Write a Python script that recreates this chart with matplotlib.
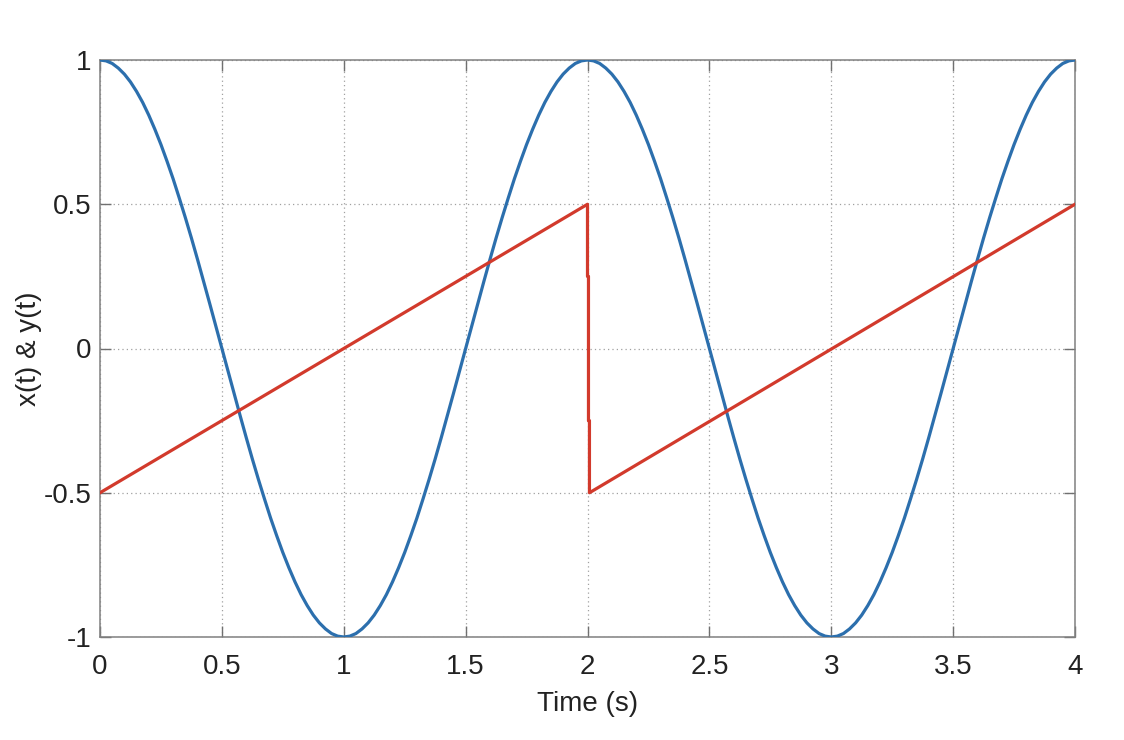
import matplotlib
matplotlib.use("Agg")
import matplotlib.pyplot as plt

# values
t_cos = [i * 0.025 for i in range(161)]
x_vals = [
    1.000, 0.997, 0.988, 0.972, 0.951, 0.924, 0.891, 0.853, 0.809, 0.760,
    0.707, 0.649, 0.588, 0.522, 0.454, 0.383, 0.309, 0.233, 0.156, 0.078,
    0.000, -0.078, -0.156, -0.233, -0.309, -0.383, -0.454, -0.522, -0.588, -0.649,
    -0.707, -0.760, -0.809, -0.853, -0.891, -0.924, -0.951, -0.972, -0.988, -0.997,
    -1.000, -0.997, -0.988, -0.972, -0.951, -0.924, -0.891, -0.853, -0.809, -0.760,
    -0.707, -0.649, -0.588, -0.522, -0.454, -0.383, -0.309, -0.233, -0.156, -0.078,
    0.000, 0.078, 0.156, 0.233, 0.309, 0.383, 0.454, 0.522, 0.588, 0.649,
    0.707, 0.760, 0.809, 0.853, 0.891, 0.924, 0.951, 0.972, 0.988, 0.997,
    1.000, 0.997, 0.988, 0.972, 0.951, 0.924, 0.891, 0.853, 0.809, 0.760,
    0.707, 0.649, 0.588, 0.522, 0.454, 0.383, 0.309, 0.233, 0.156, 0.078,
    0.000, -0.078, -0.156, -0.233, -0.309, -0.383, -0.454, -0.522, -0.588, -0.649,
    -0.707, -0.760, -0.809, -0.853, -0.891, -0.924, -0.951, -0.972, -0.988, -0.997,
    -1.000, -0.997, -0.988, -0.972, -0.951, -0.924, -0.891, -0.853, -0.809, -0.760,
    -0.707, -0.649, -0.588, -0.522, -0.454, -0.383, -0.309, -0.233, -0.156, -0.078,
    0.000, 0.078, 0.156, 0.233, 0.309, 0.383, 0.454, 0.522, 0.588, 0.649,
    0.707, 0.760, 0.809, 0.853, 0.891, 0.924, 0.951, 0.972, 0.988, 0.997,
    1.000,
]
t_saw = [0.0, 2.0, 2.0, 2.004, 2.004, 2.008, 2.008, 4.0]
y_vals = [-0.5, 0.5, 0.25, 0.25, -0.25, -0.25, -0.5, 0.5]

x_ticks = [0, 0.5, 1, 1.5, 2, 2.5, 3, 3.5, 4]
x_labels = ["0", "0.5", "1", "1.5", "2", "2.5", "3", "3.5", "4"]
y_ticks = [-1, -0.5, 0, 0.5, 1]
y_labels = ["-1", "-0.5", "0", "0.5", "1"]

plt.rcParams["font.family"] = ["Liberation Sans", "DejaVu Sans"]

fig = plt.figure(figsize=(11.24, 7.4), dpi=100)
ax = fig.add_axes([100 / 1124, 1 - 637 / 740, 975 / 1124, 577 / 740])

ax.plot(t_cos, x_vals, color="#2c6fad", lw=2.3, zorder=3, solid_joinstyle="round")
ax.plot(t_saw, y_vals, color="#d23a2c", lw=2.3, zorder=3)

ax.set_xlim(0, 4)
ax.set_ylim(-1, 1)
ax.set_xticks(x_ticks, x_labels)
ax.set_yticks(y_ticks, y_labels)
ax.grid(True, linestyle=(0, (1, 2.5)), color="#a0a0a0", lw=0.9)
ax.tick_params(direction="in", length=8, width=1, colors="#707070",
               labelcolor="#222222", labelsize=20, top=True, right=True)
ax.tick_params(axis="x", pad=12)
ax.tick_params(axis="y", pad=6)
for s in ax.spines.values():
    s.set_color("#808080")
    s.set_linewidth(1.1)

ax.set_xlabel("Time (s)", fontsize=20, color="#222222", labelpad=8)
ax.set_ylabel("x(t) & y(t)", fontsize=20, color="#222222", labelpad=1)

fig.savefig("out.png", dpi=100)
